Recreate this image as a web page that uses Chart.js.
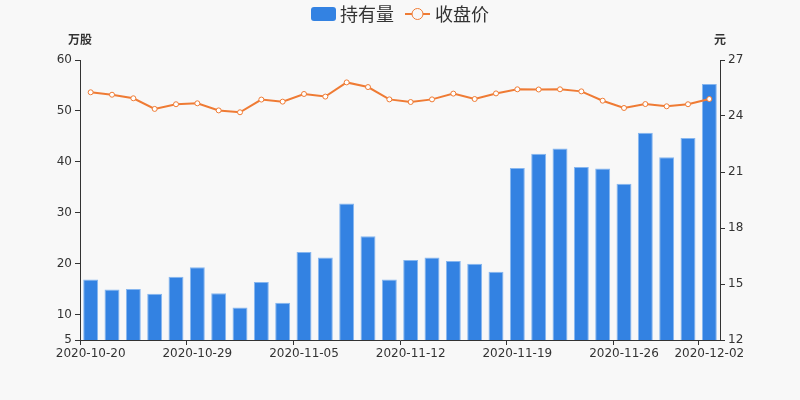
<!DOCTYPE html>
<html>
<head>
<meta charset="utf-8">
<script src="https://cdn.jsdelivr.net/npm/chart.js@4/dist/chart.umd.min.js"></script>
<style>
  html, body { margin: 0; padding: 0; background: #f8f8f8; }
  #wrap { width: 800px; height: 400px; }
</style>
</head>
<body>
<div id="wrap"><canvas id="chart"></canvas></div>
<script>
// dates (trading days shown on the axis)
const dates = ['2020-10-20', '2020-10-21', '2020-10-22', '2020-10-23', '2020-10-27',
    '2020-10-29', '2020-10-30', '2020-11-02', '2020-11-03', '2020-11-04',
    '2020-11-05', '2020-11-06', '2020-11-09', '2020-11-10', '2020-11-11',
    '2020-11-12', '2020-11-13', '2020-11-16', '2020-11-17', '2020-11-18',
    '2020-11-19', '2020-11-20', '2020-11-23', '2020-11-24', '2020-11-25',
    '2020-11-26', '2020-11-27', '2020-11-30', '2020-12-01', '2020-12-02'];

// 持有量 (万股)
const holdings = [16.9, 14.9, 15.0, 14.1, 17.4, 19.3, 14.2, 11.4, 16.4, 12.3,
    22.3, 21.2, 31.8, 25.4, 16.9, 20.7, 21.2, 20.5, 20.0, 18.4,
    38.8, 41.6, 42.6, 39.0, 38.7, 35.7, 45.7, 40.9, 44.7, 55.3];

// 收盘价 (元)
const closePrice = [25.27, 25.14, 24.95, 24.38, 24.63, 24.68, 24.30, 24.20, 24.88, 24.77,
    25.18, 25.04, 25.80, 25.55, 24.89, 24.75, 24.89, 25.20, 24.91, 25.21,
    25.43, 25.42, 25.43, 25.32, 24.82, 24.43, 24.64, 24.52, 24.63, 24.91];

const leftTicks = [5, 10, 20, 30, 40, 50, 60];

const textColor = '#333';
const barColor = '#3382e2';
const lineColor = '#ef7b34';
const cjkFont = '"Noto Sans CJK SC", "DejaVu Sans", sans-serif';

// show a label every 5 days plus the last one
function showLabel(i) {
    return i % 5 === 0 || i === dates.length - 1;
}

// legend + axis unit names
const extras = {
    id: 'extras',
    afterDraw(chart) {
        const ctx = chart.ctx;
        const area = chart.chartArea;
        ctx.save();

        // legend: bar swatch
        ctx.fillStyle = barColor;
        ctx.beginPath();
        ctx.roundRect(311, 7, 25, 14, 3);
        ctx.fill();
        ctx.fillStyle = textColor;
        ctx.font = '18px ' + cjkFont;
        ctx.textBaseline = 'middle';
        ctx.textAlign = 'left';
        ctx.fillText('持有量', 340, 14);

        // legend: line swatch
        ctx.strokeStyle = lineColor;
        ctx.lineWidth = 2;
        ctx.beginPath();
        ctx.moveTo(405, 14);
        ctx.lineTo(430, 14);
        ctx.stroke();
        ctx.fillStyle = '#f8f8f8';
        ctx.lineWidth = 1;
        ctx.beginPath();
        ctx.arc(417.5, 14, 5.5, 0, Math.PI * 2);
        ctx.fill();
        ctx.stroke();
        ctx.fillStyle = textColor;
        ctx.fillText('收盘价', 435, 14);

        // axis names
        ctx.font = 'bold 12px ' + cjkFont;
        ctx.textAlign = 'center';
        ctx.fillText('万股', area.left, 39);
        ctx.fillText('元', area.right, 39);
        ctx.restore();
    }
};

new Chart(document.getElementById('chart'), {
    data: {
        labels: dates,
        datasets: [
            {
                type: 'line',
                label: '收盘价',
                data: closePrice,
                yAxisID: 'y1',
                borderColor: lineColor,
                borderWidth: 2,
                pointRadius: 2.5,
                pointBorderWidth: 1,
                pointBackgroundColor: '#ffffff',
                pointBorderColor: lineColor,
                tension: 0,
                order: 0
            },
            {
                type: 'bar',
                label: '持有量',
                data: holdings,
                yAxisID: 'y',
                backgroundColor: barColor,
                borderColor: '#86b6ef',
                borderWidth: { top: 1, left: 1, right: 1, bottom: 0 },
                categoryPercentage: 1,
                barPercentage: 0.7,
                order: 1
            }
        ]
    },
    options: {
        responsive: true,
        maintainAspectRatio: false,
        animation: false,
        layout: { padding: { top: 60, left: 0, right: 0, bottom: 0 } },
        plugins: {
            legend: { display: false },
            tooltip: { enabled: false }
        },
        scales: {
            x: {
                offset: true,
                grid: {
                    offset: true,
                    drawOnChartArea: false,
                    tickLength: 5,
                    tickColor: ctx => (showLabel(ctx.index) || ctx.index === dates.length) ? textColor : 'rgba(0,0,0,0)'
                },
                border: { color: textColor, width: 1 },
                ticks: {
                    autoSkip: false,
                    maxRotation: 0,
                    color: textColor,
                    padding: 2,
                    font: { family: 'DejaVu Sans', size: 12 },
                    callback: (v, i) => showLabel(i) ? dates[i] : ''
                },
                afterFit: s => { s.height = 60; }
            },
            y: {
                position: 'left',
                min: 5,
                max: 60,
                afterBuildTicks: s => { s.ticks = leftTicks.map(v => ({ value: v })); },
                grid: { drawOnChartArea: false, tickLength: 5, tickColor: textColor },
                border: { color: textColor, width: 1 },
                ticks: { color: textColor, padding: 3, font: { family: 'DejaVu Sans', size: 12 } },
                afterFit: s => { s.width = 80; }
            },
            y1: {
                position: 'right',
                min: 12,
                max: 27,
                ticks: { stepSize: 3, color: textColor, padding: 3, font: { family: 'DejaVu Sans', size: 12 } },
                grid: { drawOnChartArea: false, tickLength: 5, tickColor: textColor },
                border: { color: textColor, width: 1 },
                afterFit: s => { s.width = 80; }
            }
        }
    },
    plugins: [extras]
});
</script>
</body>
</html>
